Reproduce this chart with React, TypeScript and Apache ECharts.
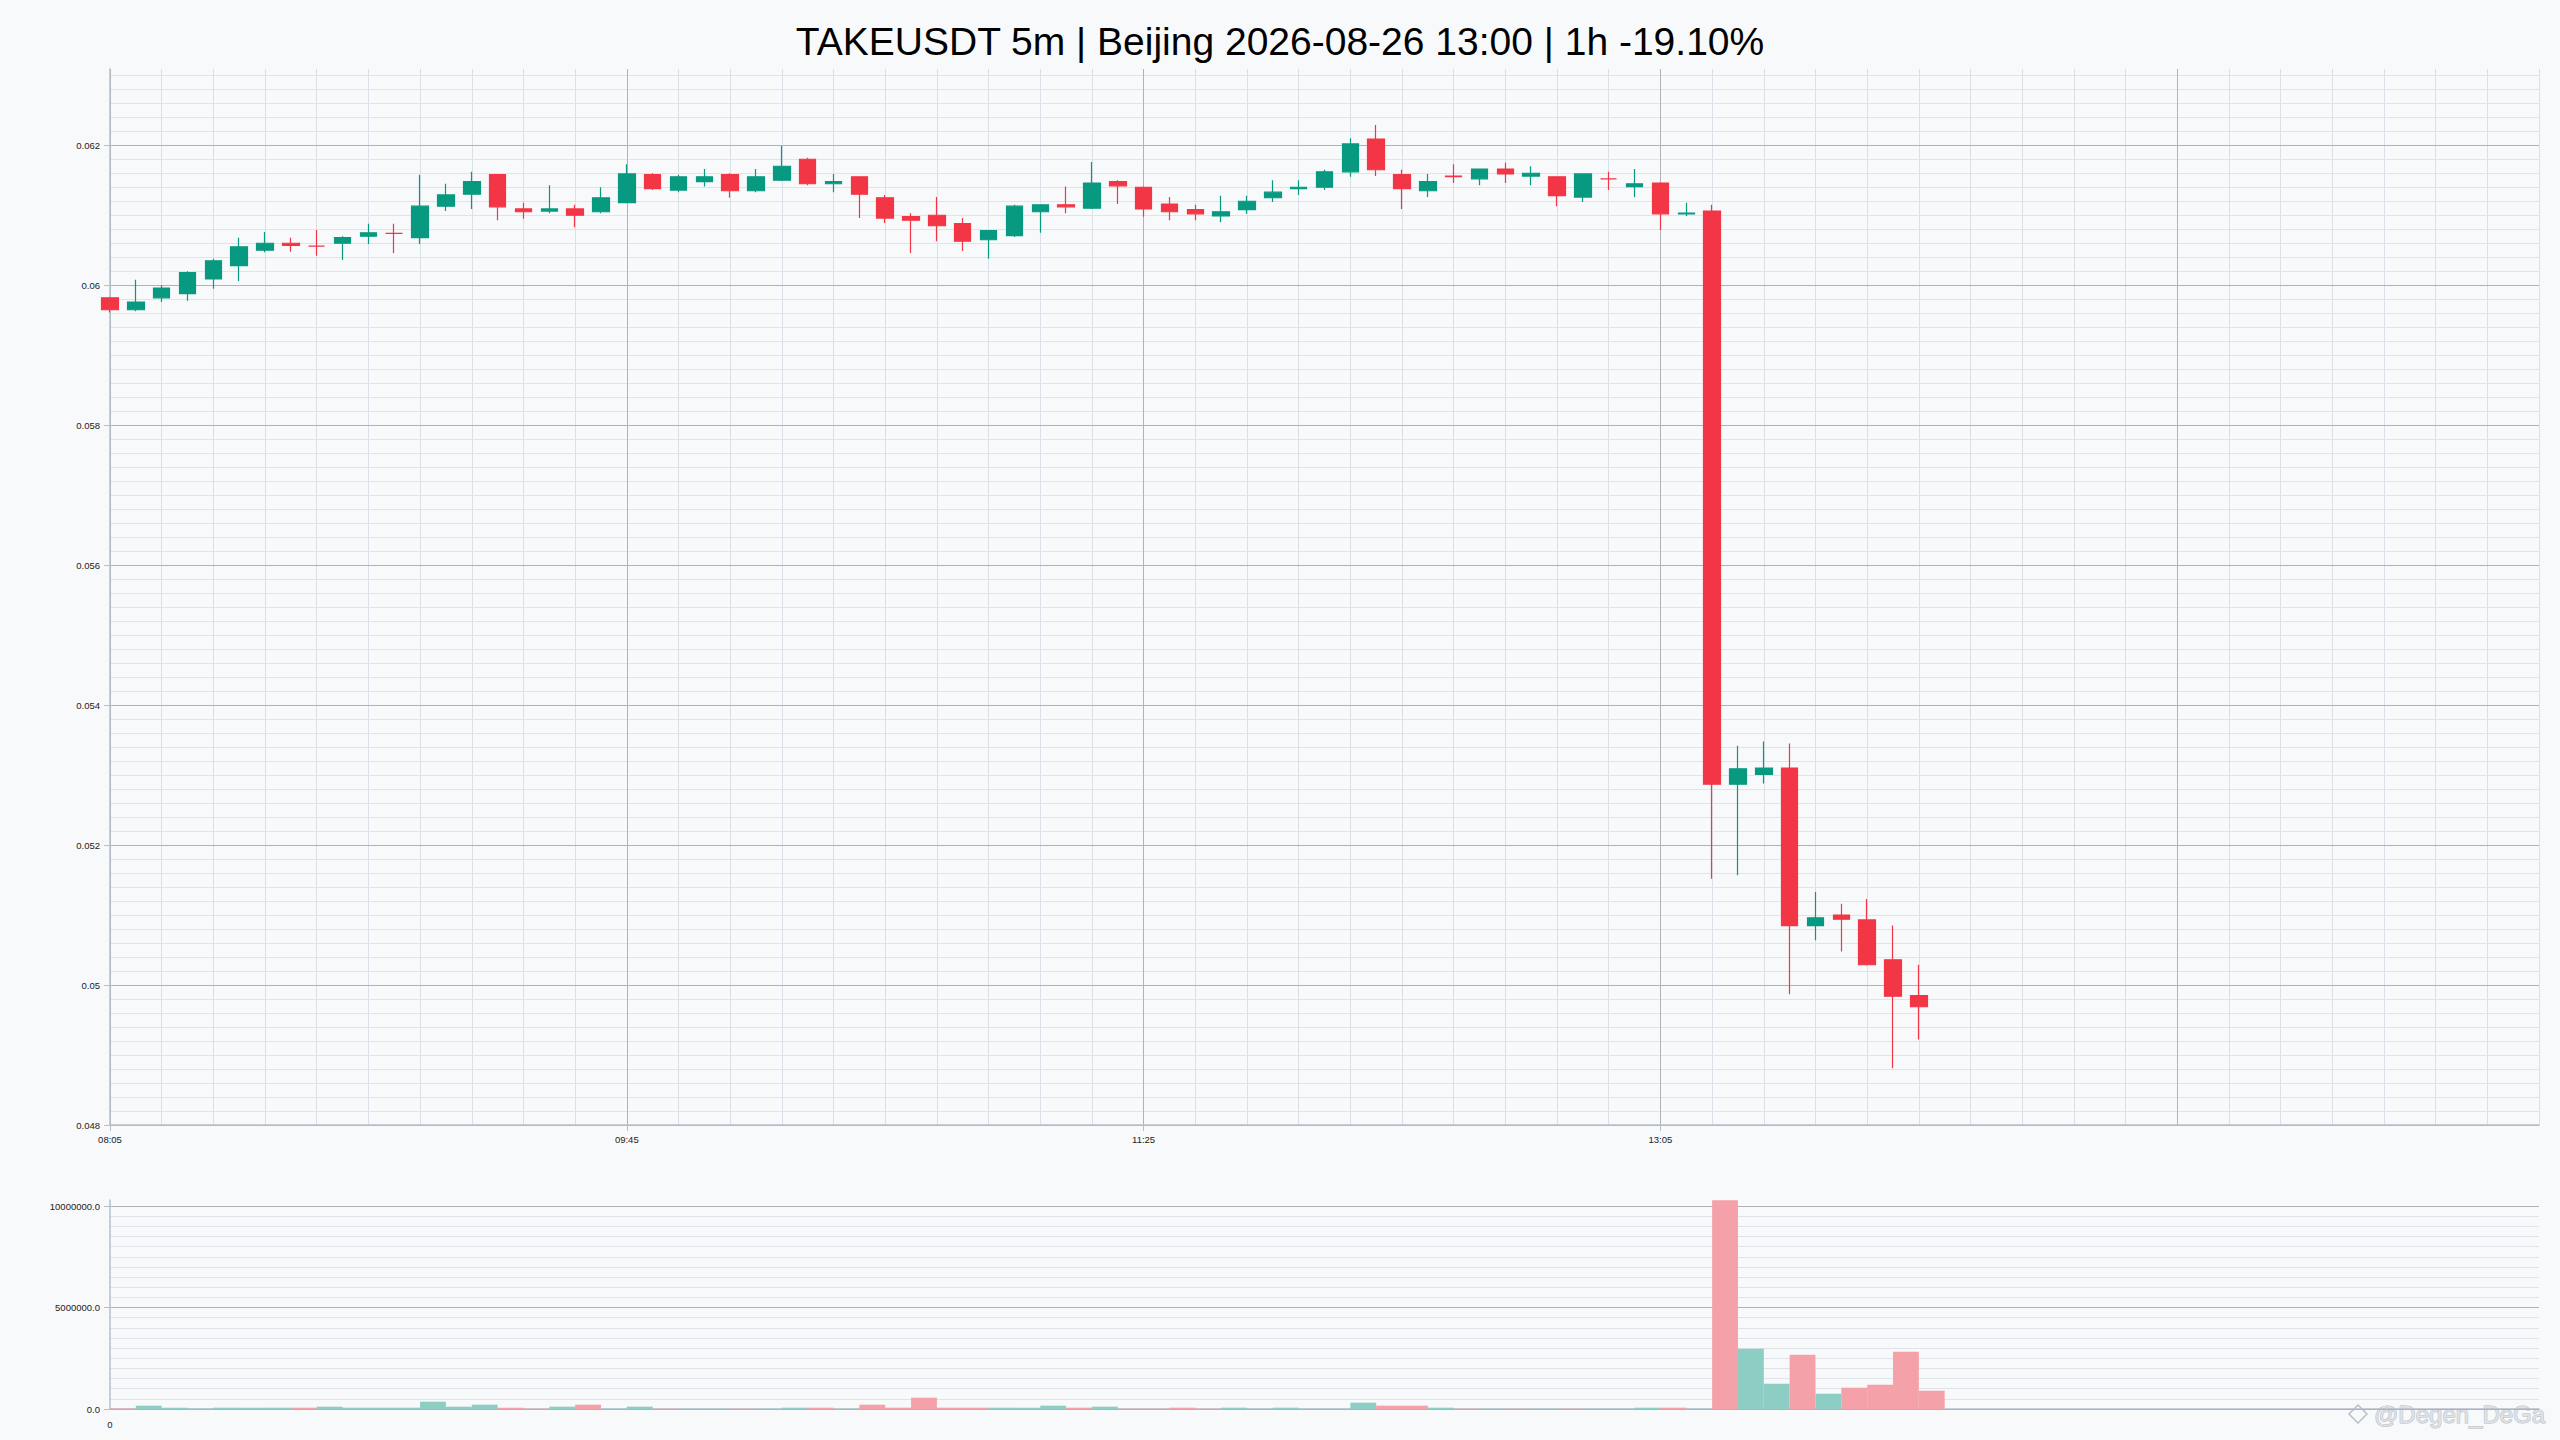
import React, { useEffect, useRef } from "react";
import * as echarts from "echarts";

const TITLE = "TAKEUSDT 5m | Beijing 2026-08-26 13:00 | 1h -19.10%";

const OPEN = [
  0.05982, 0.05965, 0.05982, 0.05988, 0.06009, 0.06028, 0.0605, 0.0606, 0.06056, 0.0606,
  0.0607, 0.06074, 0.06068, 0.06113, 0.0613, 0.06158, 0.06109, 0.06106, 0.06109, 0.06105,
  0.06118, 0.06158, 0.06136, 0.06148, 0.06158, 0.06135, 0.0615, 0.0618, 0.06145, 0.06155,
  0.06125, 0.06098, 0.061, 0.06088, 0.06065, 0.06071, 0.06105, 0.06115, 0.0611, 0.06148,
  0.0614, 0.06116, 0.06108, 0.06099, 0.06108, 0.06125, 0.06138, 0.0614, 0.06162, 0.06209,
  0.06158, 0.06135, 0.06156, 0.06152, 0.06166, 0.06156, 0.06155, 0.06126, 0.06152, 0.06141,
  0.06146, 0.06102, 0.06106, 0.05287, 0.05301, 0.0531, 0.05085, 0.051, 0.05093, 0.05036,
  0.04985,
];
const CLOSE = [
  0.05965, 0.05976, 0.05996, 0.06018, 0.06035, 0.06055, 0.0606, 0.06057, 0.06056, 0.06068,
  0.06075, 0.06074, 0.06113, 0.06129, 0.06148, 0.06112, 0.06105, 0.06109, 0.061, 0.06125,
  0.06159, 0.06138, 0.06155, 0.06155, 0.06135, 0.06155, 0.0617, 0.06145, 0.06148, 0.0613,
  0.06096, 0.06093, 0.06085, 0.06063, 0.06078, 0.06113, 0.06115, 0.06112, 0.06146, 0.06142,
  0.06109, 0.06105, 0.06102, 0.06105, 0.0612, 0.06133, 0.0614, 0.06162, 0.06202, 0.06165,
  0.06138, 0.06148, 0.06155, 0.06166, 0.06159, 0.0616, 0.06128, 0.06159, 0.06152, 0.06145,
  0.06102, 0.06103, 0.05287, 0.05309, 0.0531, 0.05085, 0.05096, 0.05094, 0.05029, 0.04984,
  0.04969,
];
const HIGH = [
  0.05983, 0.06008, 0.06, 0.0602, 0.06038, 0.06068, 0.06076, 0.06068, 0.06079, 0.0607,
  0.06088, 0.06088, 0.06158, 0.06145, 0.06162, 0.06159, 0.06118, 0.06143, 0.06115, 0.0614,
  0.06173, 0.0616, 0.06158, 0.06166, 0.0616, 0.06166, 0.06199, 0.06182, 0.06159, 0.06155,
  0.06129, 0.06103, 0.06126, 0.06096, 0.06078, 0.06115, 0.06115, 0.06141, 0.06176, 0.0615,
  0.06141, 0.06126, 0.06115, 0.06128, 0.06128, 0.0615, 0.0615, 0.06165, 0.0621, 0.06229,
  0.06165, 0.06159, 0.06173, 0.06166, 0.06175, 0.0617, 0.06155, 0.06159, 0.06162, 0.06166,
  0.06147, 0.06118, 0.06115, 0.05342, 0.05348, 0.05345, 0.05133, 0.05116, 0.05123, 0.05085,
  0.05029,
];
const LOW = [
  0.05961, 0.05963, 0.05976, 0.05978, 0.05995, 0.06006, 0.06047, 0.06048, 0.06042, 0.06036,
  0.06059, 0.06046, 0.06059, 0.06106, 0.06109, 0.06093, 0.06095, 0.06103, 0.06083, 0.06103,
  0.06117, 0.06136, 0.06133, 0.06141, 0.06125, 0.06133, 0.06149, 0.06143, 0.06133, 0.06096,
  0.06089, 0.06046, 0.06063, 0.06049, 0.06038, 0.06069, 0.06075, 0.06103, 0.06109, 0.06116,
  0.06098, 0.06093, 0.06093, 0.0609, 0.06102, 0.06119, 0.06129, 0.06136, 0.06155, 0.06156,
  0.06109, 0.06126, 0.06146, 0.06143, 0.06146, 0.06143, 0.06113, 0.06119, 0.06136, 0.06126,
  0.06079, 0.06099, 0.05152, 0.05157, 0.05288, 0.04987, 0.05064, 0.05048, 0.05028, 0.04881,
  0.04922,
];
const VOLUME = [
  20000, 164000, 65000, 15000, 65000, 65000, 65000, 65000, 115000, 65000,
  65000, 65000, 360000, 115000, 213000, 65000, 15000, 115000, 213000, 15000,
  115000, 10000, 10000, 10000, 10000, 10000, 65000, 65000, 10000, 213000,
  65000, 557000, 65000, 65000, 65000, 65000, 164000, 65000, 115000, 10000,
  10000, 65000, 10000, 65000, 10000, 65000, 10000, 10000, 311000, 164000,
  164000, 65000, 10000, 10000, 10000, 10000, 10000, 10000, 10000, 65000,
  65000, 10000, 10290000, 2966000, 1245000, 2671000, 754000, 1049000, 1196000, 2819000,
  901000,
];

const SLOTS = 95;
const START_MINUTE = 8 * 60 + 5;
const CATEGORIES = Array.from({ length: SLOTS }, (_, i) => {
  const m = START_MINUTE + 5 * i;
  return `${String(Math.floor(m / 60)).padStart(2, "0")}:${String(m % 60).padStart(2, "0")}`;
});
const VOL_CATEGORIES = CATEGORIES.slice(0, SLOTS - 1);
const TIME_TICKS = ["08:05", "09:45", "11:25", "13:05"];

const PRICE_MIN = 0.048;
const PRICE_MAX = 0.06309;
const VOL_MAX = 10300000;

const FONT = "'Liberation Sans', Arial, Helvetica, sans-serif";
const BG = "#f8f9fb";
const UP = "#089981";
const DOWN = "#f23645";
const VOL_UP = "#8ccec4";
const VOL_DOWN = "#f4a1a9";
const SPINE = "#b6bfcb";
const MAJOR = "#b0b2b6";
const MINOR_H = "#dfe3ea";
const MINOR_V = "#d9e0e8";
const LABEL = "#222222";

export default function App() {
  const ref = useRef<HTMLDivElement>(null);

  useEffect(() => {
    document.body.style.margin = "0";
    document.body.style.background = BG;
    const chart = echarts.init(ref.current as HTMLDivElement, null, { renderer: "svg" });

    const axisLabelStyle = { fontSize: 9.5, color: LABEL, fontFamily: FONT };

    const option: any = {
      animation: false,
      backgroundColor: BG,
      title: {
        text: TITLE,
        left: "center",
        top: 17,
        textStyle: { fontSize: 39, fontWeight: "normal", color: "#000", fontFamily: FONT },
      },
      grid: [
        { left: 110, right: 21, top: 69, height: 1056, outerBoundsMode: "none" },
        { left: 110, right: 21, top: 1200, height: 209, outerBoundsMode: "none" },
      ],
      xAxis: [
        {
          type: "category",
          gridIndex: 0,
          position: "bottom",
          data: CATEGORIES,
          boundaryGap: false,
          z: 1,
          axisLine: { show: true, onZero: false, lineStyle: { color: SPINE, width: 1.5 } },
          axisTick: {
            show: true,
            length: 6,
            interval: (_i: number, v: string) => TIME_TICKS.includes(v),
            lineStyle: { color: SPINE },
          },
          axisLabel: {
            ...axisLabelStyle,
            margin: 9,
            interval: (_i: number, v: string) => TIME_TICKS.includes(v),
          },
          splitLine: {
            show: true,
            interval: (i: number) => i % 20 === 0,
            lineStyle: { color: MAJOR, width: 1 },
          },
        },
        {
          type: "category",
          gridIndex: 0,
          position: "bottom",
          data: CATEGORIES,
          boundaryGap: false,
          z: 0,
          axisLine: { show: false },
          axisTick: { show: false },
          axisLabel: { show: false },
          splitLine: {
            show: true,
            interval: (i: number) => i % 2 === 0,
            lineStyle: { color: MINOR_V, width: 1 },
          },
        },
        {
          type: "category",
          gridIndex: 1,
          position: "bottom",
          data: VOL_CATEGORIES,
          boundaryGap: true,
          axisLine: { show: true, onZero: false, lineStyle: { color: SPINE, width: 1.5 } },
          axisTick: { show: false },
          axisLabel: { show: false },
          splitLine: { show: false },
        },
        {
          type: "value",
          gridIndex: 1,
          position: "bottom",
          min: 0,
          max: SLOTS - 1,
          interval: SLOTS - 1,
          axisLine: { show: false, onZero: false },
          axisTick: { show: false },
          axisLabel: {
            ...axisLabelStyle,
            margin: 10,
            showMaxLabel: false,
            formatter: (v: number) => (v === 0 ? "0" : ""),
          },
          splitLine: { show: false },
        },
      ],
      yAxis: [
        {
          type: "value",
          gridIndex: 0,
          position: "left",
          min: PRICE_MIN,
          max: PRICE_MAX,
          interval: 0.002,
          z: 1,
          axisLine: { show: true, onZero: false, lineStyle: { color: SPINE, width: 1.5 } },
          axisTick: { show: true, length: 6, lineStyle: { color: SPINE } },
          axisLabel: { ...axisLabelStyle, margin: 10, showMaxLabel: false },
          splitLine: { show: true, showMaxLine: false, lineStyle: { color: MAJOR, width: 1 } },
        },
        {
          type: "value",
          gridIndex: 0,
          position: "left",
          min: PRICE_MIN,
          max: PRICE_MAX,
          interval: 0.0002,
          z: 0,
          axisLine: { show: false },
          axisTick: { show: false },
          axisLabel: { show: false },
          splitLine: { show: true, showMaxLine: false, lineStyle: { color: MINOR_H, width: 1 } },
        },
        {
          type: "value",
          gridIndex: 1,
          position: "left",
          min: 0,
          max: VOL_MAX,
          interval: 5000000,
          z: 1,
          axisLine: { show: true, onZero: false, lineStyle: { color: SPINE, width: 1.5 } },
          axisTick: { show: true, length: 6, lineStyle: { color: SPINE } },
          axisLabel: {
            ...axisLabelStyle,
            margin: 10,
            showMaxLabel: false,
            formatter: (v: number) => v.toFixed(1),
          },
          splitLine: { show: true, showMaxLine: false, lineStyle: { color: MAJOR, width: 1 } },
        },
        {
          type: "value",
          gridIndex: 1,
          position: "left",
          min: 0,
          max: VOL_MAX,
          interval: 500000,
          z: 0,
          axisLine: { show: false },
          axisTick: { show: false },
          axisLabel: { show: false },
          splitLine: { show: true, showMaxLine: false, lineStyle: { color: MINOR_H, width: 1 } },
        },
      ],
      series: [
        {
          type: "candlestick",
          xAxisIndex: 0,
          yAxisIndex: 0,
          barWidth: 17,
          data: OPEN.map((o, i) => [o, CLOSE[i], LOW[i], HIGH[i]]),
          itemStyle: {
            color: UP,
            color0: DOWN,
            borderColor: UP,
            borderColor0: DOWN,
            borderWidth: 1.2,
          },
        },
        {
          type: "bar",
          xAxisIndex: 2,
          yAxisIndex: 2,
          barWidth: "100%",
          barGap: "0%",
          data: VOLUME.map((v, i) => ({
            value: v,
            itemStyle: { color: CLOSE[i] >= OPEN[i] ? VOL_UP : VOL_DOWN },
          })),
        },
      ],
      graphic: [
        {
          type: "polygon",
          shape: { points: [[2358, 1405], [2367, 1414], [2358, 1423], [2349, 1414]] },
          style: { fill: "none", stroke: "#b9bfc8", lineWidth: 1.5 },
        },
        {
          type: "text",
          x: 2374,
          y: 1414,
          style: {
            text: "@Degen_DeGa",
            fontSize: 24,
            fontFamily: FONT,
            fill: "#dfe2e7",
            stroke: "#b3b9c2",
            lineWidth: 1,
            verticalAlign: "middle",
          },
        },
      ],
    };

    chart.setOption(option);
    return () => chart.dispose();
  }, []);

  return <div ref={ref} style={{ width: 2560, height: 1440, background: BG }} />;
}
